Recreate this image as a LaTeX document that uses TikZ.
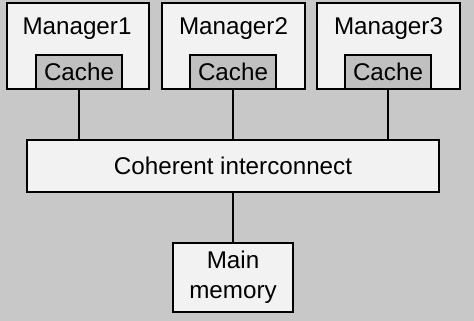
\documentclass[tikz,border=0pt]{standalone}
\usepackage{fontspec}
\setmainfont{Liberation Sans}
\definecolor{bg}{RGB}{200,200,200}
\definecolor{boxfill}{RGB}{242,242,242}
\definecolor{cachefill}{RGB}{192,192,192}
\begin{document}
\begin{tikzpicture}[x=1pt,y=-1pt,
  box/.style={draw=black,line width=1.8pt,fill=boxfill},
  cachebox/.style={draw=black,line width=1.8pt,fill=cachefill},
  lbl/.style={font=\fontsize{24.2}{28}\selectfont,inner sep=0pt},
  conn/.style={draw=black,line width=1.8pt}]
\fill[bg] (0,0) rectangle (474,321);
\useasboundingbox (0,0) rectangle (474,321);
% managers
\path[box] (7,3) rectangle (149,89);
\path[box] (162,3) rectangle (305,89);
\path[box] (317,3) rectangle (460,89);
\node[lbl] (m1) at (77,29) {Manager1};
\node[lbl] (m2) at (233.5,29) {Manager2};
\node[lbl] (m3) at (388.5,29) {Manager3};
% caches
\node[cachebox,minimum width=86pt,minimum height=34pt,inner sep=0pt,font=\fontsize{24.2}{28}\selectfont] (c1) at (79,72) {Cache};
\node[cachebox,minimum width=86pt,minimum height=34pt,inner sep=0pt,font=\fontsize{24.2}{28}\selectfont] (c2) at (233,72) {Cache};
\node[cachebox,minimum width=86pt,minimum height=34pt,inner sep=0pt,font=\fontsize{24.2}{28}\selectfont] (c3) at (388,72) {Cache};
% interconnect
\node[box,minimum width=412pt,minimum height=52pt,inner sep=0pt,font=\fontsize{24.2}{28}\selectfont] (ic) at (233,166) {Coherent interconnect};
% main memory
\node[box,minimum width=120pt,minimum height=69pt,inner sep=0pt,align=center,font=\fontsize{24.2}{30}\selectfont] (mm) at (233,277.5) {Main\\memory};
% connectors
\draw[conn] (c1.south) -- (c1.south |- ic.north);
\draw[conn] (c2.south) -- (c2.south |- ic.north);
\draw[conn] (c3.south) -- (c3.south |- ic.north);
\draw[conn] (ic.south) -- (mm.north);
\end{tikzpicture}
\end{document}
